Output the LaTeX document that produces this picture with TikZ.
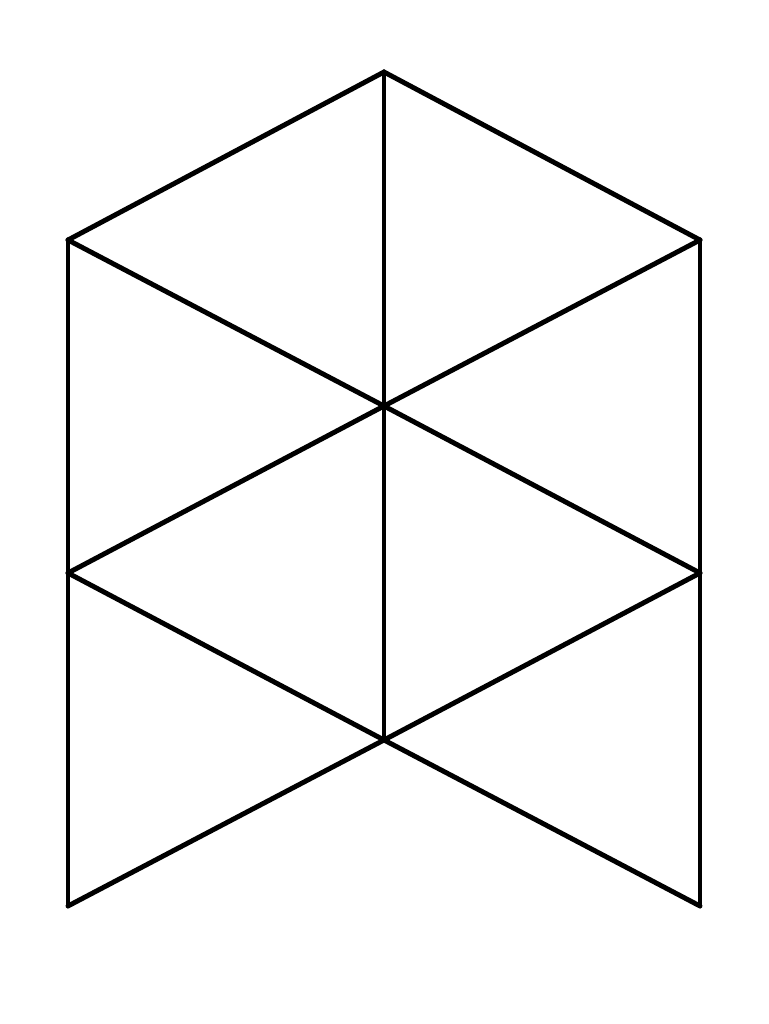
\documentclass[tikz,border=0pt]{standalone}
\tikzset{edge/.style={line width=2.8pt,line cap=round,line join=miter}}
\begin{document}
\begin{tikzpicture}[x=0.02cm,y=-0.02cm]
\useasboundingbox (0,0) rectangle (768,1024);

\coordinate (top) at (384,72);
\coordinate (lt) at (68,240);
\coordinate (rt) at (700,240);
\coordinate (c1) at (384,406);
\coordinate (lm) at (68,573);
\coordinate (rm) at (700,573);
\coordinate (c2) at (384,740);
\coordinate (lb) at (68,906);
\coordinate (rb) at (700,906);

\draw[edge] (lt) -- (top) -- (rt);
\draw[edge] (top) -- (c2);
\draw[edge] (lt) -- (lb);
\draw[edge] (rt) -- (rb);

\draw[edge] (lt) -- (c1) -- (rm);
\draw[edge] (rt) -- (c1) -- (lm);
\draw[edge] (lm) -- (c2) -- (rb);
\draw[edge] (rm) -- (c2) -- (lb);
\end{tikzpicture}
\end{document}
